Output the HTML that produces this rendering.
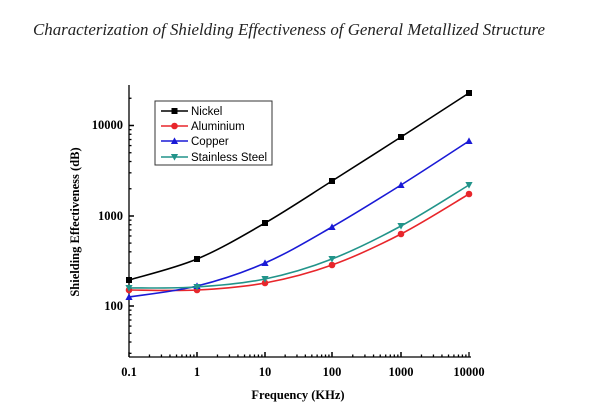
<!DOCTYPE html>
<html><head><meta charset="utf-8"><style>
html,body{margin:0;padding:0;background:#fff;width:600px;height:418px;overflow:hidden}
</style></head><body>
<svg id="s" width="600" height="418" xmlns="http://www.w3.org/2000/svg" font-family="Liberation Serif, serif">
<text x="289" y="35" font-size="16.5" font-style="italic" text-anchor="middle" fill="#222" textLength="512" lengthAdjust="spacingAndGlyphs">Characterization of Shielding Effectiveness of General Metallized Structure</text>
<g id="ax" stroke="#000" stroke-width="1.3" fill="none">
<line x1="129" y1="85" x2="129" y2="357"/>
<line x1="129" y1="357" x2="471" y2="357"/>
</g>
<g font-size="12.5" font-weight="bold" fill="#000" text-anchor="middle">
<text x="129" y="376">0.1</text><text x="197" y="376">1</text><text x="265" y="376">10</text>
<text x="332" y="376">100</text><text x="401" y="376">1000</text><text x="469" y="376">10000</text>
<text x="298" y="399" font-size="12.5">Frequency (KHz)</text>
</g>
<g font-size="12.5" font-weight="bold" fill="#000" text-anchor="end">
<text x="123" y="129">10000</text><text x="123" y="220">1000</text><text x="123" y="310">100</text>
</g>
<text transform="translate(79,222) rotate(-90)" font-size="12.5" font-weight="bold" text-anchor="middle">Shielding Effectiveness (dB)</text>
<g id="series" fill="none" stroke-width="1.6"></g>
<rect x="155" y="101" width="117" height="64" fill="#fff" stroke="#333" stroke-width="1"/>
<g font-family="Liberation Sans, sans-serif" font-size="11.5" fill="#000">
<text x="191" y="115">Nickel</text><text x="191" y="130">Aluminium</text><text x="191" y="145">Copper</text><text x="191" y="161">Stainless Steel</text>
</g>
<g id="leg"></g>
</svg>
<script>
var NS="http://www.w3.org/2000/svg",s=document.getElementById('s');
function el(t,a,p){var e=document.createElementNS(NS,t);for(var k in a)e.setAttribute(k,a[k]);(p||s).appendChild(e);return e;}
var ax=document.getElementById('ax');
var xs=[129,197,265,332,401,469];
for(var d=0;d<5;d++){var x0=xs[d],w=xs[d+1]-x0;for(var m=1;m<=10;m++){var x=x0+w*Math.log10(m);el('line',{x1:x,x2:x,y1:357,y2:m==1||m==10?352:354.5},ax);}}
var ys=[396.5,306,216,125.5,35];
for(var d=0;d<4;d++){var y0=ys[d],h=ys[d]-ys[d+1];for(var m=1;m<=10;m++){var y=y0-h*Math.log10(m);if(y<85||y>357)continue;el('line',{x1:129,x2:m==1||m==10?134:131.5,y1:y,y2:y},ax);}}
var S=[
{c:'#000',m:'sq',p:[280,259,223,181,137,93]},
{c:'#e8262b',m:'ci',p:[290,290,283,265,234,194]},
{c:'#1a1ad6',m:'tu',p:[297,286,263,227,185,141]},
{c:'#22948a',m:'td',p:[288,287,279,259,226,185]}];
var g=document.getElementById('series');
function mark(t,x,y,c,par){
 if(t=='sq')el('rect',{x:x-3,y:y-3,width:6,height:6,fill:c,stroke:'none'},par);
 else if(t=='ci')el('circle',{cx:x,cy:y,r:3.3,fill:c,stroke:'none'},par);
 else if(t=='tu')el('polygon',{points:(x-3.6)+','+(y+3)+' '+(x+3.6)+','+(y+3)+' '+x+','+(y-3.6),fill:c,stroke:'none'},par);
 else el('polygon',{points:(x-3.6)+','+(y-3)+' '+(x+3.6)+','+(y-3)+' '+x+','+(y+3.6),fill:c,stroke:'none'},par);
}
S.forEach(function(o){
 var P=o.p.map(function(y,i){return [xs[i],y];});
 var d='M'+P[0][0]+','+P[0][1];
 for(var i=0;i<P.length-1;i++){
  var p0=P[i-1]||P[i],p1=P[i],p2=P[i+1],p3=P[i+2]||P[i+1];
  var c1=[p1[0]+(p2[0]-p0[0])/6,p1[1]+(p2[1]-p0[1])/6],c2=[p2[0]-(p3[0]-p1[0])/6,p2[1]-(p3[1]-p1[1])/6];
  d+=' C'+c1+' '+c2+' '+p2;
 }
 el('path',{d:d,stroke:o.c},g);
 P.forEach(function(p){mark(o.m,p[0],p[1],o.c,g);});
});
var lg=document.getElementById('leg');
S.forEach(function(o,i){var y=[111,126,141,157][i];el('line',{x1:161,x2:188,y1:y,y2:y,stroke:o.c,'stroke-width':1.6},lg);mark(o.m,174.5,y,o.c,lg);});
</script>
</body></html>
